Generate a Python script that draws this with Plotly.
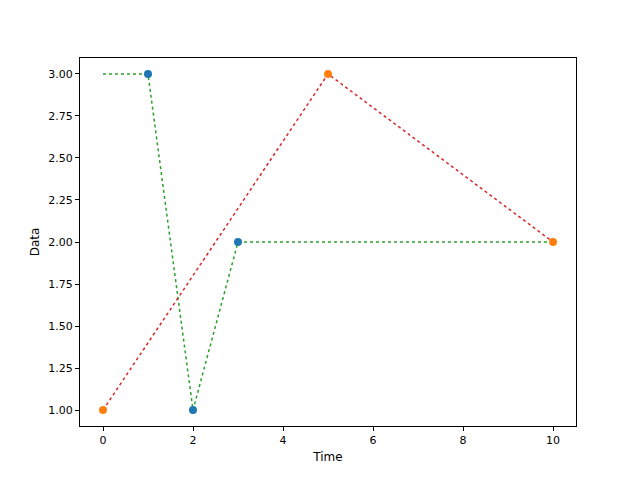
import plotly.graph_objects as go

line_a_x = [0, 1, 2, 3, 10]
line_a_y = [3, 3, 1, 2, 2]
pts_a_x = [1, 2, 3]
pts_a_y = [3, 1, 2]
line_b_x = [0, 5, 10]
line_b_y = [1, 3, 2]

fig = go.Figure()
fig.add_trace(go.Scatter(x=line_a_x, y=line_a_y, mode="lines",
                         line=dict(color="#2ca02c", width=1.5, dash="dot")))
fig.add_trace(go.Scatter(x=pts_a_x, y=pts_a_y, mode="markers",
                         marker=dict(color="#1f77b4", size=8)))
fig.add_trace(go.Scatter(x=line_b_x, y=line_b_y, mode="lines",
                         line=dict(color="#d62728", width=1.5, dash="dot")))
fig.add_trace(go.Scatter(x=line_b_x, y=line_b_y, mode="markers",
                         marker=dict(color="#ff7f0e", size=8)))

axis = dict(showgrid=False, zeroline=False, showline=True, mirror=True,
            linecolor="black", linewidth=1, ticks="outside", ticklen=4,
            tickcolor="black", tickfont=dict(size=11, color="black"))
fig.update_layout(
    width=640, height=480, showlegend=False,
    plot_bgcolor="white", paper_bgcolor="white",
    margin=dict(l=72, r=72, t=50, b=62),
    font=dict(family="DejaVu Sans", color="black"),
    xaxis=dict(axis, range=[-0.511, 10.51], tickvals=[0, 2, 4, 6, 8, 10],
               title=dict(text="Time", font=dict(size=12), standoff=6)),
    yaxis=dict(axis, range=[0.905, 3.095],
               tickvals=[1, 1.25, 1.5, 1.75, 2, 2.25, 2.5, 2.75, 3],
               tickformat=".2f",
               title=dict(text="Data", font=dict(size=12), standoff=6)),
)
fig.write_html("out.html")
